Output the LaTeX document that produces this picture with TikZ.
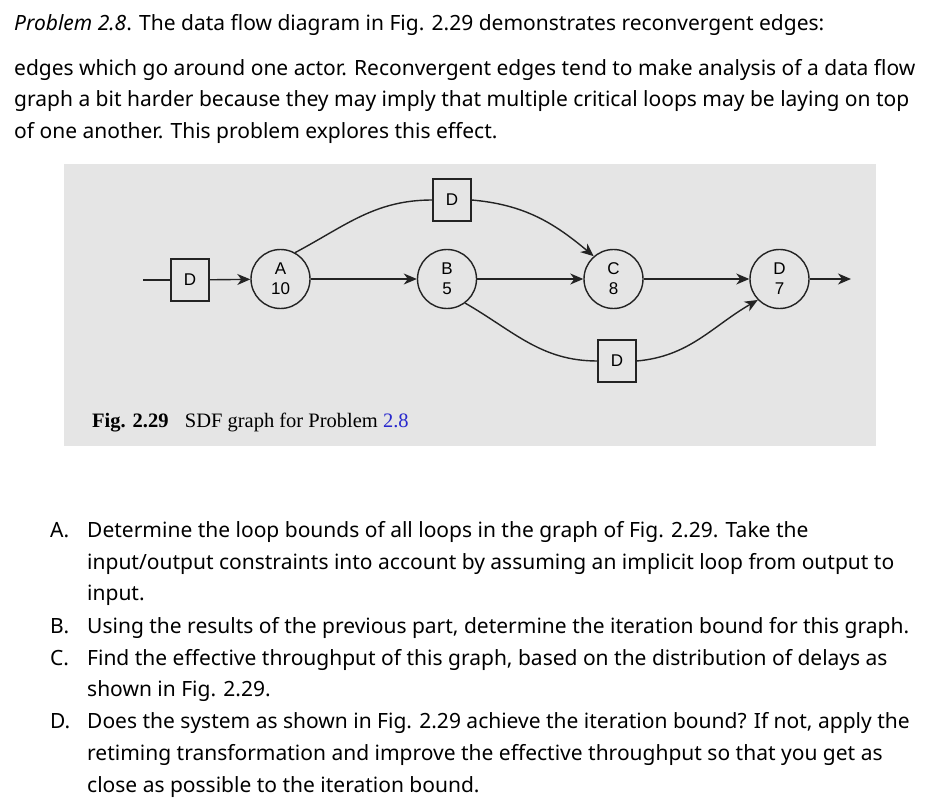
\documentclass[tikz,border=0pt]{standalone}
\usepackage{fontspec}
\usetikzlibrary{arrows.meta}
\newfontfamily\bodyfont{Noto Sans}
\newfontfamily\graphfont{Liberation Sans}
\newfontfamily\capfont{Liberation Serif}
\definecolor{panelgray}{RGB}{229,229,229}
\definecolor{edgegray}{RGB}{35,35,35}
\definecolor{refblue}{RGB}{40,40,205}
\begin{document}
\begin{tikzpicture}[x=1pt, y=-1pt, >={Stealth[length=13pt, width=11pt, inset=4pt]}]

        % Define custom styles for actors, delays and text lines
        \tikzset{
          actor/.style={circle, draw=edgegray, line width=1.4pt, minimum size=59pt, inner sep=0pt, align=center, font=\graphfont\fontsize{17}{20}\selectfont},
          delay/.style={rectangle, draw=edgegray, line width=1.4pt, minimum width=38pt, minimum height=42pt, inner sep=0pt, font=\graphfont\fontsize{17}{20}\selectfont},
          edge/.style={draw=edgegray, line width=1.4pt},
          line/.style={anchor=base west, inner sep=0pt, font=\bodyfont\fontsize{21}{25}\selectfont}
        }

        \useasboundingbox (0,0) rectangle (929,802);

        % Problem statement
        \node[line] (p1) at (14,31) {\textit{Problem 2.8}. The data flow diagram in Fig. 2.29 demonstrates reconvergent edges:};
        \node[line] (p2) at (14,76) {edges which go around one actor. Reconvergent edges tend to make analysis of a data flow};
        \node[line] (p3) at (14,107) {graph a bit harder because they may imply that multiple critical loops may be laying on top};
        \node[line] (p4) at (14,139) {of one another. This problem explores this effect.};

        % Figure panel
        \fill[panelgray] (64,164) rectangle (876,446);

        % Define nodes of the SDF graph
        \coordinate (in) at (143,280);
        \node[delay] (dIn) at (190,280) {D};
        \node[actor] (A) at (280.5,279) {A\\10};
        \node[actor] (B) at (447,279) {B\\5};
        \node[actor] (C) at (613.5,279) {C\\8};
        \node[actor] (Dn) at (779.5,279) {D\\7};
        \coordinate (out) at (851,279);
        \node[delay] (dTop) at (452,200) {D};
        \node[delay] (dBot) at (617,361) {D};

        % Draw edges
        \draw[edge] (in) -- (dIn);
        \draw[edge, ->] (dIn) -- (A);
        \draw[edge, ->] (A) -- (B);
        \draw[edge, ->] (B) -- (C);
        \draw[edge, ->] (C) -- (Dn);
        \draw[edge, ->] (Dn) -- (out);
        \draw[edge] (A.61) to[out=28, in=180] (dTop.west);
        \draw[edge, ->] (dTop.east) to[out=-5, in=140] (C.131);
        \draw[edge] (B.-53) to[out=-30, in=180] (dBot.west);
        \draw[edge, ->] (dBot.east) to[out=5, in=210] (Dn.224);

        % Caption
        \node[anchor=base west, inner sep=0pt, font=\capfont\fontsize{20.5}{24}\selectfont] (cap) at (92,427)
          {\textbf{Fig. 2.29}\hspace{0.8em}SDF graph for Problem \textcolor{refblue}{2.8}};

        % Questions
        \node[line] (qA) at (50,537) {A.};
        \node[line] (qA1) at (87,537) {Determine the loop bounds of all loops in the graph of Fig. 2.29. Take the};
        \node[line] (qA2) at (87,569) {input/output constraints into account by assuming an implicit loop from output to};
        \node[line] (qA3) at (87,600) {input.};
        \node[line] (qB) at (50,633) {B.};
        \node[line] (qB1) at (87,633) {Using the results of the previous part, determine the iteration bound for this graph.};
        \node[line] (qC) at (50,665) {C.};
        \node[line] (qC1) at (87,665) {Find the effective throughput of this graph, based on the distribution of delays as};
        \node[line] (qC2) at (87,696) {shown in Fig. 2.29.};
        \node[line] (qD) at (50,728) {D.};
        \node[line] (qD1) at (87,728) {Does the system as shown in Fig. 2.29 achieve the iteration bound? If not, apply the};
        \node[line] (qD2) at (87,760) {retiming transformation and improve the effective throughput so that you get as};
        \node[line] (qD3) at (87,792) {close as possible to the iteration bound.};

\end{tikzpicture}
\end{document}
